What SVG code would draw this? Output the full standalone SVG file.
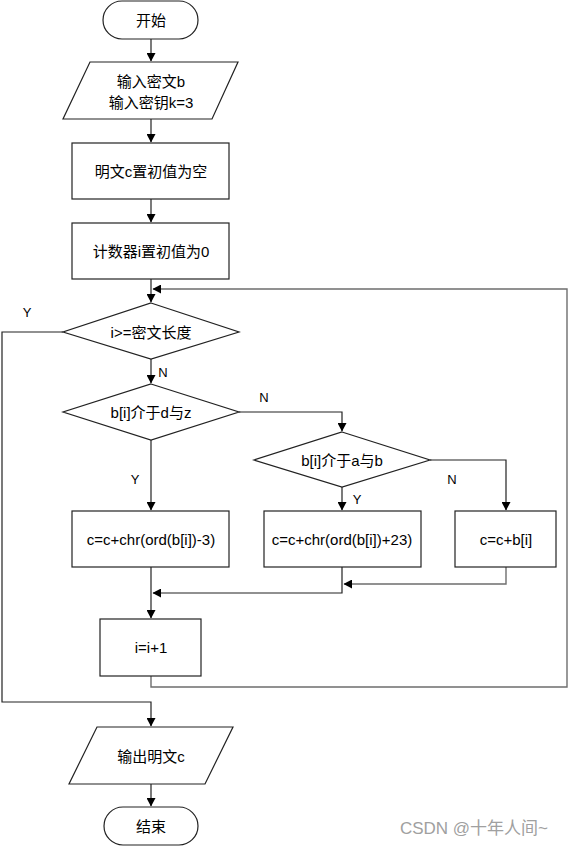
<svg xmlns="http://www.w3.org/2000/svg" width="568" height="847" viewBox="0 0 568 847">
<style>
.s{fill:#fff;stroke:#222;stroke-width:1.2}
.c{fill:none;stroke:#222;stroke-width:1.2}
.g{fill:none;stroke:#6e6e6e;stroke-width:1.4}
.t{font-family:"Liberation Sans","Noto Sans CJK SC",sans-serif;font-size:15px;fill:#000;text-anchor:middle;dominant-baseline:central}
.l{font-family:"Liberation Sans","Noto Sans CJK SC",sans-serif;font-size:13px;fill:#000;text-anchor:middle;dominant-baseline:central}
.w{font-family:"Liberation Sans","Noto Sans CJK SC",sans-serif;font-size:17px;fill:#a0a0a0;text-anchor:middle;dominant-baseline:central}
</style>
<defs>
<marker id="a" markerWidth="9" markerHeight="9" refX="8" refY="4.5" orient="auto" markerUnits="userSpaceOnUse">
<path d="M0,0 L8.5,4.5 L0,9 Z" fill="#000"/>
</marker>
</defs>
<rect width="568" height="847" fill="#fff"/>
<g id="connectors">
<path class="c" d="M151,39 V61" marker-end="url(#a)"/>
<path class="c" d="M151,119 V142" marker-end="url(#a)"/>
<path class="c" d="M151,199 V222" marker-end="url(#a)"/>
<path class="c" d="M151,279 V302" marker-end="url(#a)"/>
<path class="c" d="M151,359 V383" marker-end="url(#a)"/>
<path class="c" d="M239,412 H342 V431" marker-end="url(#a)"/>
<path class="c" d="M151,440 V510" marker-end="url(#a)"/>
<path class="c" d="M342,487 V510" marker-end="url(#a)"/>
<path class="c" d="M430,460 H506 V510" marker-end="url(#a)"/>
<path class="g" d="M506,567 V584 H344" marker-end="url(#a)"/>
<path class="c" d="M342,567 V593 H153" marker-end="url(#a)"/>
<path class="c" d="M151,567 V618" marker-end="url(#a)"/>
<path class="g" d="M151,676 V687 H567 V289 H153" marker-end="url(#a)"/>
<path class="c" d="M63,332 H2 V702 H151 V726" marker-end="url(#a)"/>
<path class="c" d="M151,784 V806" marker-end="url(#a)"/>
<text class="l" x="27" y="312">Y</text>
<text class="l" x="163" y="372">N</text>
<text class="l" x="264" y="397">N</text>
<text class="l" x="135" y="479">Y</text>
<text class="l" x="357" y="499">Y</text>
<text class="l" x="452" y="479">N</text>
</g>
<g id="start"><rect class="s" x="103" y="1" width="95" height="38" rx="19"/><text class="t" x="151" y="20">开始</text></g>
<g id="input"><polygon class="s" points="90,62 238,62 212,119 63,119"/><text class="t" x="151" y="81">输入密文b</text><text class="t" x="151" y="102">输入密钥k=3</text></g>
<g id="initc"><rect class="s" x="72" y="143" width="157" height="56"/><text class="t" x="151" y="171">明文c置初值为空</text></g>
<g id="initi"><rect class="s" x="72" y="223" width="157" height="56"/><text class="t" x="151" y="251">计数器i置初值为0</text></g>
<g id="cond1"><polygon class="s" points="151,303 239,332 151,359 63,332"/><text class="t" x="151" y="332">i&gt;=密文长度</text></g>
<g id="cond2"><polygon class="s" points="151,384 239,412 151,440 63,412"/><text class="t" x="151" y="412">b[i]介于d与z</text></g>
<g id="cond3"><polygon class="s" points="342,432 430,460 342,487 254,460"/><text class="t" x="342" y="460">b[i]介于a与b</text></g>
<g id="box1"><rect class="s" x="72" y="511" width="157" height="56"/><text class="t" x="151" y="539">c=c+chr(ord(b[i])-3)</text></g>
<g id="box2"><rect class="s" x="264" y="511" width="157" height="56"/><text class="t" x="342" y="539">c=c+chr(ord(b[i])+23)</text></g>
<g id="box3"><rect class="s" x="455" y="511" width="101" height="56"/><text class="t" x="506" y="539">c=c+b[i]</text></g>
<g id="inc"><rect class="s" x="100" y="619" width="101" height="57"/><text class="t" x="151" y="647">i=i+1</text></g>
<g id="output"><polygon class="s" points="97,727 233,727 205,784 69,784"/><text class="t" x="151" y="756">输出明文c</text></g>
<g id="end"><rect class="s" x="104" y="807" width="94" height="38" rx="19"/><text class="t" x="151" y="826">结束</text></g>
<text class="w" x="474" y="828">CSDN @十年人间~</text>
</svg>
